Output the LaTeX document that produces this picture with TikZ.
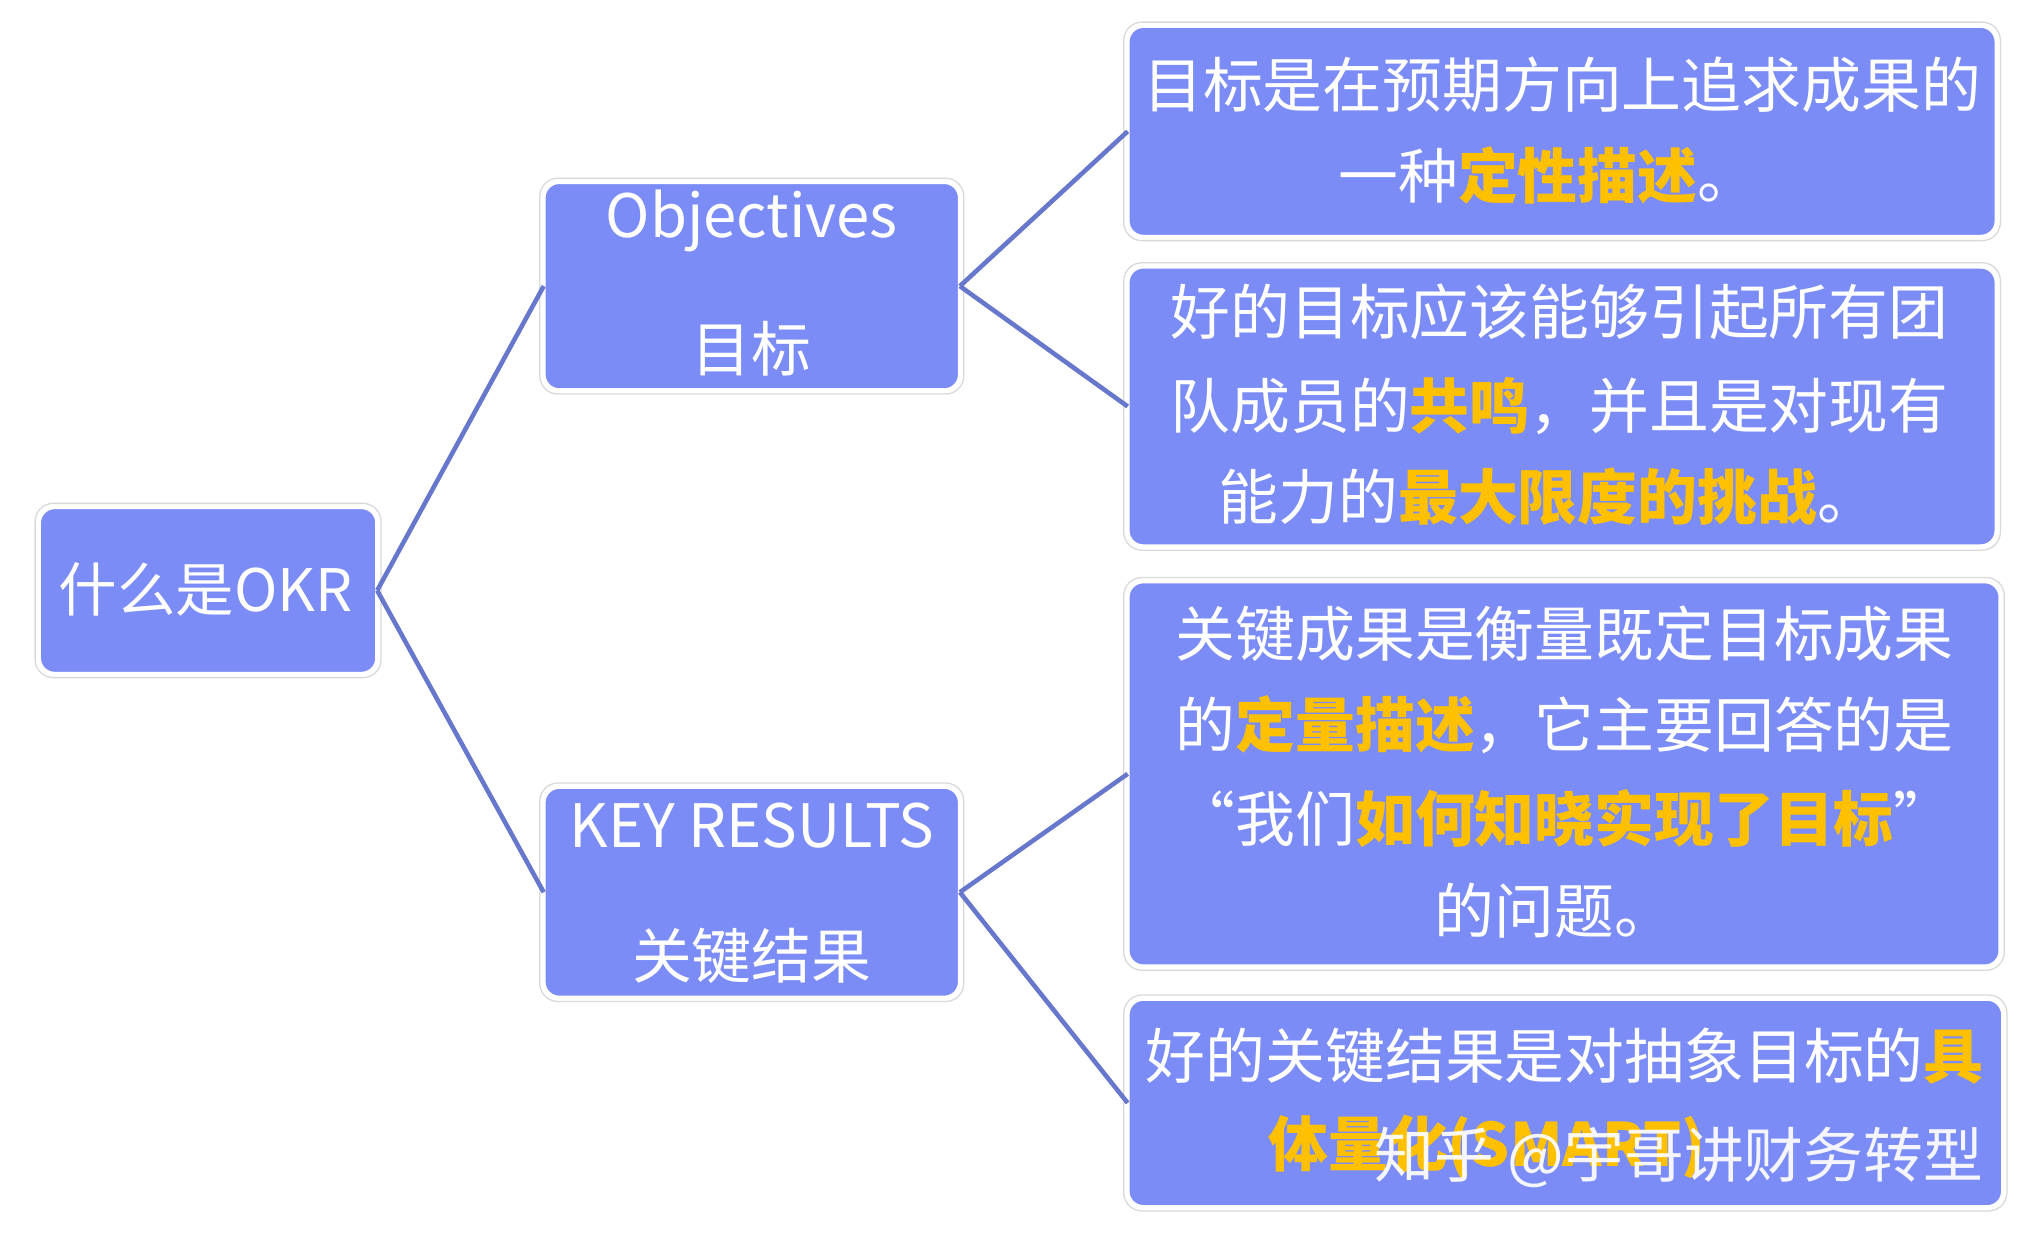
\documentclass[tikz,border=0pt]{standalone}
\usepackage{fontspec}
\setmainfont{Noto Sans CJK SC}
\definecolor{boxf}{HTML}{7B8CF7}
\definecolor{lnc}{HTML}{6677CC}
\definecolor{yel}{HTML}{FFC000}
\newcommand{\hl}[1]{\textcolor{yel}{\bfseries #1}}
\begin{document}
\begin{tikzpicture}[x=1pt,y=-1pt,
  bx/.style={draw=white,line width=3pt,fill=boxf,rounded corners=12pt},
  outer/.style={draw=black!15,line width=1pt,rounded corners=14pt},
  tx/.style={text=white,inner sep=0pt,anchor=center,font=\fontsize{46}{52}\selectfont},
  ln/.style={draw=lnc,line width=3.5pt}]
\useasboundingbox (0,0) rectangle (1560,955);
\fill[white] (0,0) rectangle (1560,955);
% boxes
\foreach \n/\a/\b/\c/\d in {root/30/390/290/518, obj/418/140/738/300, kr/418/605/738/767,
  b1/867/20/1535/182, b2/867/205/1535/420, b3/867/447/1538/743, b4/867/768/1540/928}{
  \draw[outer] (\a-3,\b-3) rectangle (\c+3,\d+3);
  \path[bx] (\a,\b) rectangle (\c,\d);
  \coordinate (\n-w) at (\a,{(\b+\d)/2});
  \coordinate (\n-e) at (\c,{(\b+\d)/2});
}
% connectors
\draw[ln] (root-e) -- (obj-w);
\draw[ln] (root-e) -- (kr-w);
\draw[ln] (obj-e) -- (b1-w);
\draw[ln] (obj-e) -- (b2-w);
\draw[ln] (kr-e) -- (b3-w);
\draw[ln] (kr-e) -- (b4-w);
% texts
\node[tx,font=\fontsize{45}{50}\selectfont] (t0) at (158,453) {什么是OKR};
\node[tx] (t1) at (578,170) {Objectives};
\node[tx] (t2) at (578,268) {目标};
\node[tx] (t3) at (578,635) {KEY RESULTS};
\node[tx] (t4) at (578,735) {关键结果};
\node[tx] (a1) at (1201,65) {目标是在预期方向上追求成果的};
\node[tx] (a2) at (1190,135) {一种\hl{定性描述}。};
\node[tx] (c1) at (1199,240) {好的目标应该能够引起所有团};
\node[tx] (c2) at (1199,312) {队成员的\hl{共鸣}，并且是对现有};
\node[tx] (c3) at (1190,382) {能力的\hl{最大限度的挑战}。};
\node[tx] (d1) at (1203,487) {关键成果是衡量既定目标成果};
\node[tx] (d2) at (1203,557) {的\hl{定量描述}，它主要回答的是};
\node[tx] (d3) at (1203,629) {“我们\hl{如何知晓实现了目标}”};
\node[tx] (d4) at (1195,700) {的问题。};
\node[tx] (e1) at (1203,812) {好的关键结果是对抽象目标的\hl{具}};
\node[tx,anchor=west] (e2) at (975,882) {\hl{体量化(SMART)}};
\node[tx,anchor=east,text opacity=0.92] (wm) at (1525,890) {知乎 @宇哥讲财务转型};
\end{tikzpicture}
\end{document}
